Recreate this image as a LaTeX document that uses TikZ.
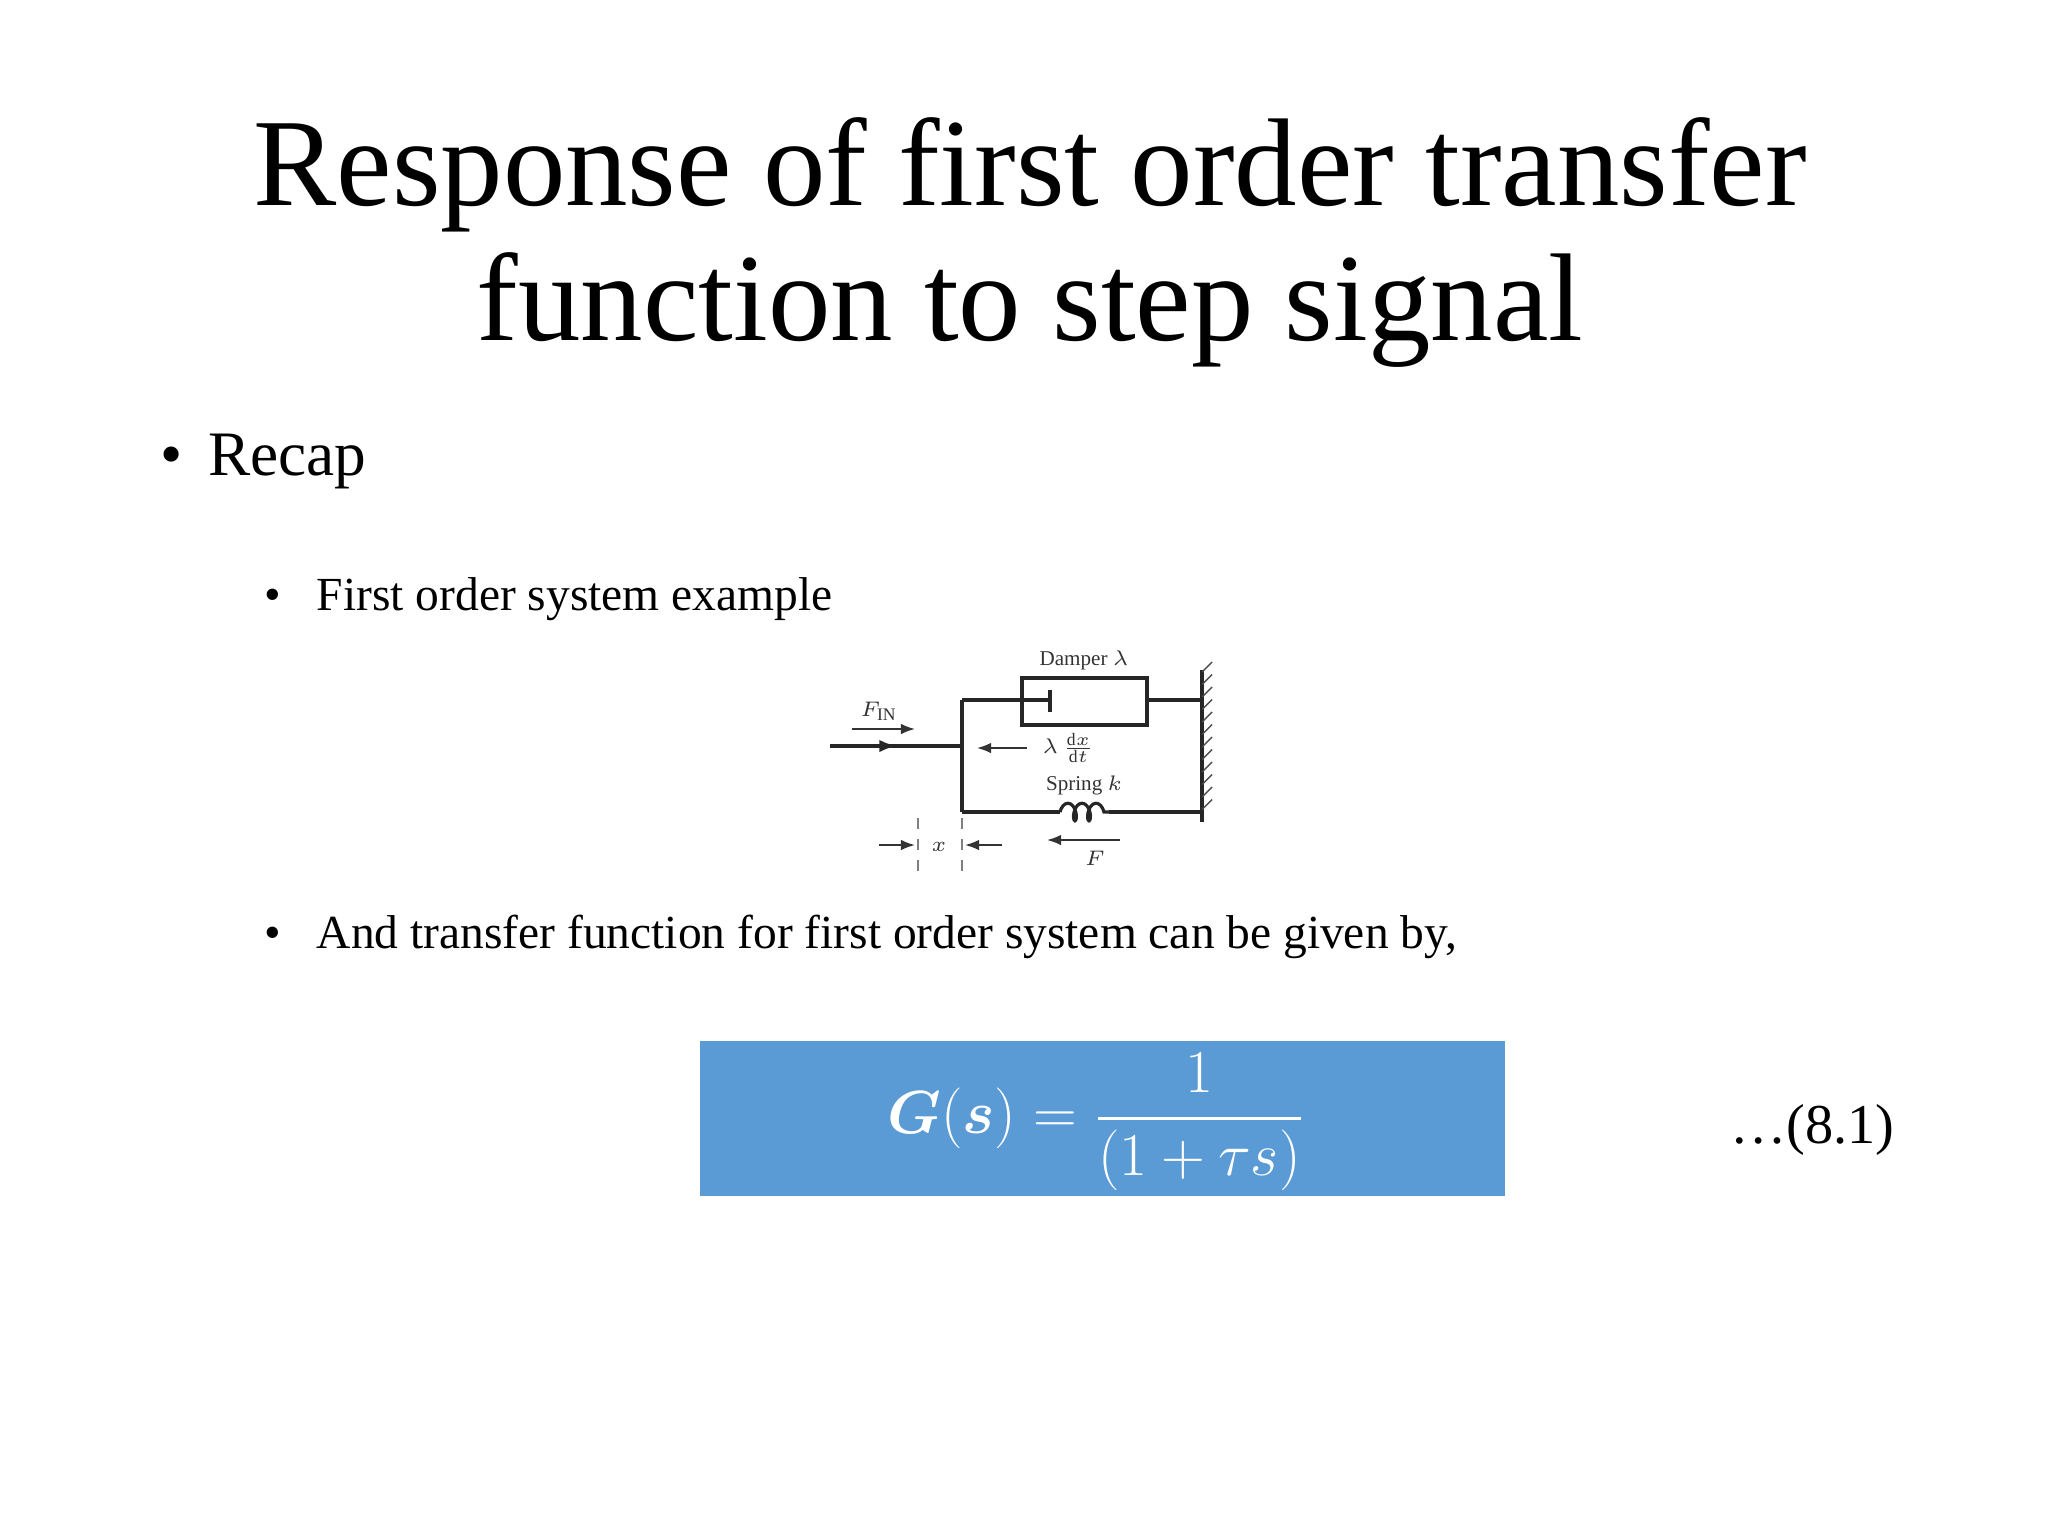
\documentclass[tikz,border=0pt]{standalone}
\usepackage{fontspec}
\setmainfont{Liberation Serif}
\usepackage{amsmath,bm}
\usetikzlibrary{decorations.pathmorphing,arrows.meta}
\definecolor{slideblue}{HTML}{5B9BD5}
\tikzset{
  lbl/.style={inner sep=0pt, font=\fontsize{6}{7}\selectfont, text=black!80},
  mech/.style={line width=0.9pt, black!85},
  force/.style={-{Latex[length=4pt,width=3pt]}, line width=0.5pt, black!80},
  body/.style={anchor=base west, inner sep=0pt},
}
\begin{document}
\begin{tikzpicture}[x=0.01cm, y=-0.01cm]
      \useasboundingbox (0,0) rectangle (2048,1536);
      % title and bullets
      \node[font=\fontsize{35.5}{43}\selectfont, anchor=base, inner sep=0pt] (title) at (1030,205) {Response of first order transfer};
      \node[font=\fontsize{35.5}{43}\selectfont, anchor=base, inner sep=0pt] (title2) at (1030,340) {function to step signal};
      \node[body, font=\fontsize{18}{20}\selectfont] (recap) at (160,475) {\textbullet\hspace{0.4em}Recap};
      \node[body, font=\fontsize{13.5}{16}\selectfont] (ex) at (264,610) {\textbullet\hspace{0.75em}First order system example};
      \node[body, font=\fontsize{13.5}{16}\selectfont] (tf) at (264,948) {\textbullet\hspace{0.75em}And transfer function for first order system can be given by,};

      % mechanical system
      \coordinate (in) at (830,746);
      \coordinate (jl) at (962,746);
      \coordinate (tl) at (962,700);
      \coordinate (bl) at (962,812);
      \coordinate (wt) at (1202,670);
      \coordinate (wb) at (1202,822);
      \coordinate (bxl) at (1022,700);
      \coordinate (bxr) at (1147,700);
      \draw[mech] (1022,678) rectangle (1147,725);
      \draw[mech] (in) -- (jl);
      \draw[-{Latex[length=5pt,width=3.5pt]}, mech] (in) -- (897,746);
      \draw[mech] (tl) -- (bl);
      \draw[mech] (tl) -- (bxl) -- (1050,700);
      \draw[mech] (1050,690) -- (1050,712);
      \draw[mech] (bxr) -- (wt |- bxr);
      \draw[mech, line width=1.2pt] (wt) -- (wb);
      \foreach \i in {0,...,11}
          \draw[black!70, line width=0.4pt] (1202,672+12.5*\i) -- (1212,662+12.5*\i);
      \draw[mech] (bl) -- (1060,812);
      \draw[mech, decoration={coil, segment length=4pt, amplitude=2.5pt, aspect=0.5}, decorate] (1060,812) -- (1109,812);
      \draw[mech] (1109,812) -- (wb |- bl);
      \node[lbl] (damper) at (1084,660) {Damper $\lambda$};
      \node[lbl] (spring) at (1084,785) {Spring $k$};
      \node[lbl] (fin) at (879,711) {$F_{\mathrm{IN}}$};
      \draw[force] (852,729) -- (915,729);
      \node[lbl, anchor=west] (lam) at (1042,748) {$\lambda\,\frac{\mathrm{d}x}{\mathrm{d}t}$};
      \draw[force] (1027,748) -- (977,748);
      \draw[black!50, dashed, line width=0.4pt] (918,818) -- (918,875);
      \draw[black!50, dashed, line width=0.4pt] (962,818) -- (962,875);
      \draw[force] (879,845) -- (915,845);
      \draw[force] (1002,845) -- (965,845);
      \node[lbl] (xl) at (939,847) {$x$};
      \draw[force] (1120,840) -- (1047,840);
      \node[lbl] (f) at (1095,858) {$F$};

      % transfer function
      \fill[slideblue] (700,1041) rectangle (1505,1196);
      \node[text=white, font=\fontsize{19}{23}\selectfont, inner sep=0pt] (eq) at (1096,1122) {$\bm{G}(\bm{s})=\dfrac{1}{(1+\tau s)}$};
      \node[anchor=base east, font=\fontsize{16}{18}\selectfont, inner sep=0pt] (num) at (1895,1143) {\dots(8.1)};
\end{tikzpicture}
\end{document}
